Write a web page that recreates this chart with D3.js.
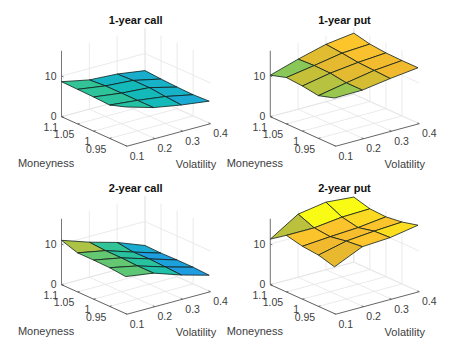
<!DOCTYPE html>
<html>
<head>
<meta charset="utf-8">
<script src="https://cdn.jsdelivr.net/npm/d3@7"></script>
<style>
  html, body { margin: 0; padding: 0; background: #fff; }
  svg { display: block; }
  text { font-family: "Liberation Sans", Arial, sans-serif; fill: #404040; font-size: 10.5px; }
</style>
</head>
<body>
<div id="chart"></div>
<script>
const moneyness = [1.1, 1.05, 1, 0.95, 0.9];
const volatility = [0.1, 0.2, 0.3, 0.4];
const moneynessTicks = [1.1, 1.05, 1, 0.95];
const volatilityTicks = [0.1, 0.2, 0.3, 0.4];
const zTicks = [0, 10];

// one row per volatility, one column per moneyness
const call1y = [
  [8.6, 8.5, 8.4, 8.2, 9.5],
  [7.2, 7.5, 7.5, 7.5, 7.5],
  [6.8, 7.0, 7.0, 6.6, 6.3],
  [5.8, 5.5, 5.3, 5.2, 5.4],
];
const put1y = [
  [10.2, 11.4, 11.1, 10.5, 11.7],
  [12.3, 12.5, 12.4, 11.8, 11.8],
  [14.1, 13.7, 13.2, 13.0, 12.8],
  [15.0, 14.1, 13.7, 13.6, 13.6],
];
const call2y = [
  [10.9, 9.6, 9.6, 9.5, 9.1],
  [8.6, 8.3, 8.3, 8.1, 8.1],
  [6.7, 6.1, 6.2, 6.0, 5.8],
  [4.1, 4.0, 4.1, 4.1, 3.9],
];
const put2y = [
  [11.2, 13.9, 13.0, 12.6, 11.5],
  [15.5, 13.9, 13.5, 14.2, 14.6],
  [16.6, 14.7, 13.9, 14.8, 15.0],
  [16.0, 14.9, 14.7, 15.2, 16.2],
];

const parula = ['#3e26a8', '#4154e6', '#2b85f5', '#1ba6d8', '#13bdb5', '#40c78a', '#8fc854', '#cfbe33', '#f0b82e', '#fec62c', '#f9fb15'];

const PANELS = [
  { title: '1-year call', values: call1y, x: 61.5, y: 116.7 },
  { title: '1-year put', values: put1y, x: 270.3, y: 116.7 },
  { title: '2-year call', values: call2y, x: 61.5, y: 284.7 },
  { title: '2-year put', values: put2y, x: 270.3, y: 284.7 },
];

const WIDTH = 474;
const HEIGHT = 355;
const Z_TOP = 16.2;
const COLOR_MIN = 2.5;
const COLOR_MAX = 15.5;

// oblique floor axes, px per full axis length
const mX = d3.scaleLinear([1.1, 0.896], [0, 65.5]);
const mY = d3.scaleLinear([1.1, 0.896], [0, 29.5]);
const vX = d3.scaleLinear([0.1, 0.4], [0, 83.5]);
const vY = d3.scaleLinear([0.1, 0.4], [0, -22.5]);
const zY = d3.scaleLinear([0, 10], [0, -40.7]);
const colorScale = d3
  .scaleLinear()
  .domain(parula.map((c, i) => COLOR_MIN + ((COLOR_MAX - COLOR_MIN) * i) / (parula.length - 1)))
  .range(parula)
  .clamp(true);

const project = (m, v, z) => [mX(m) + vX(v), mY(m) + vY(v) + zY(z)];

const line = (g, a, b, stroke, width) =>
  g
    .append('line')
    .attr('x1', a[0])
    .attr('y1', a[1])
    .attr('x2', b[0])
    .attr('y2', b[1])
    .attr('stroke', stroke)
    .attr('stroke-width', width);

const drawGrid = (g) => {
  const mEnd = mX.domain()[1];
  const vEnd = 0.4;
  const grid = '#e4e4e4';
  moneynessTicks.forEach((m) => {
    line(g, project(m, 0.1, 0), project(m, vEnd, 0), grid, 0.8);
    line(g, project(m, vEnd, 0), project(m, vEnd, Z_TOP), grid, 0.8);
  });
  volatilityTicks.forEach((v) => {
    line(g, project(1.1, v, 0), project(mEnd, v, 0), grid, 0.8);
    line(g, project(1.1, v, 0), project(1.1, v, Z_TOP), grid, 0.8);
  });
  zTicks.forEach((z) => {
    line(g, project(1.1, 0.1, z), project(1.1, vEnd, z), grid, 0.8);
    line(g, project(1.1, vEnd, z), project(mEnd, vEnd, z), grid, 0.8);
  });
};

const drawAxes = (g) => {
  const mEnd = mX.domain()[1];
  const axisColor = '#555';
  line(g, project(1.1, 0.1, 0), project(1.1, 0.1, Z_TOP), '#777', 1);
  line(g, project(1.1, 0.1, 0), project(mEnd, 0.1, 0), axisColor, 0.9);
  line(g, project(mEnd, 0.1, 0), project(mEnd, 0.4, 0), axisColor, 0.9);

  zTicks.forEach((z) => {
    const [x, y] = project(1.1, 0.1, z);
    line(g, [x, y], [x + 2, y + 0.9], axisColor, 0.8);
    g.append('text')
      .attr('x', x - 5)
      .attr('y', y + 3.5)
      .attr('text-anchor', 'end')
      .text(z);
  });
  moneynessTicks.forEach((m) => {
    const [x, y] = project(m, 0.1, 0);
    line(g, [x, y], [x + 2, y - 0.6], axisColor, 0.8);
    g.append('text')
      .attr('x', x - 3.3)
      .attr('y', y + 14.2)
      .attr('text-anchor', 'end')
      .text(m);
  });
  volatilityTicks.forEach((v) => {
    const [x, y] = project(mEnd, v, 0);
    line(g, [x, y], [x - 2, y - 0.9], axisColor, 0.8);
    g.append('text')
      .attr('x', x + 10)
      .attr('y', y + 13.6)
      .attr('text-anchor', 'middle')
      .text(v);
  });
};

const drawSurface = (g, values) => {
  const faces = [];
  d3.range(volatility.length - 1).forEach((i) => {
    d3.range(moneyness.length - 1).forEach((j) => {
      faces.push({
        depth: j - i,
        fill: colorScale(values[i][j]),
        corners: [
          project(moneyness[j], volatility[i], values[i][j]),
          project(moneyness[j + 1], volatility[i], values[i][j + 1]),
          project(moneyness[j + 1], volatility[i + 1], values[i + 1][j + 1]),
          project(moneyness[j], volatility[i + 1], values[i + 1][j]),
        ],
      });
    });
  });

  g.selectAll('path.face')
    .data(d3.sort(faces, (d) => d.depth))
    .join('path')
    .attr('class', 'face')
    .attr('d', (d) => `M${d.corners.join('L')}Z`)
    .attr('fill', (d) => d.fill)
    .attr('stroke', '#10201c')
    .attr('stroke-width', 0.8)
    .attr('stroke-linejoin', 'round');
};

const drawPanel = (svg, { title, values, x, y }) => {
  const g = svg.append('g').attr('transform', `translate(${x}, ${y})`);
  drawGrid(g);
  drawAxes(g);
  drawSurface(g, values);

  g.append('text')
    .attr('x', 74.2)
    .attr('y', -93.2)
    .attr('text-anchor', 'middle')
    .style('font-size', '11px')
    .style('font-weight', 'bold')
    .style('fill', '#111')
    .text(title);
  g.append('text')
    .attr('x', -15.5)
    .attr('y', 50)
    .attr('text-anchor', 'middle')
    .style('font-size', '11px')
    .text('Moneyness');
  g.append('text')
    .attr('x', 134.5)
    .attr('y', 51.2)
    .attr('text-anchor', 'middle')
    .style('font-size', '11px')
    .text('Volatility');
};

const svg = d3
  .select('#chart')
  .append('svg')
  .attr('width', WIDTH)
  .attr('height', HEIGHT);

PANELS.forEach((panel) => drawPanel(svg, panel));
</script>
</body>
</html>
